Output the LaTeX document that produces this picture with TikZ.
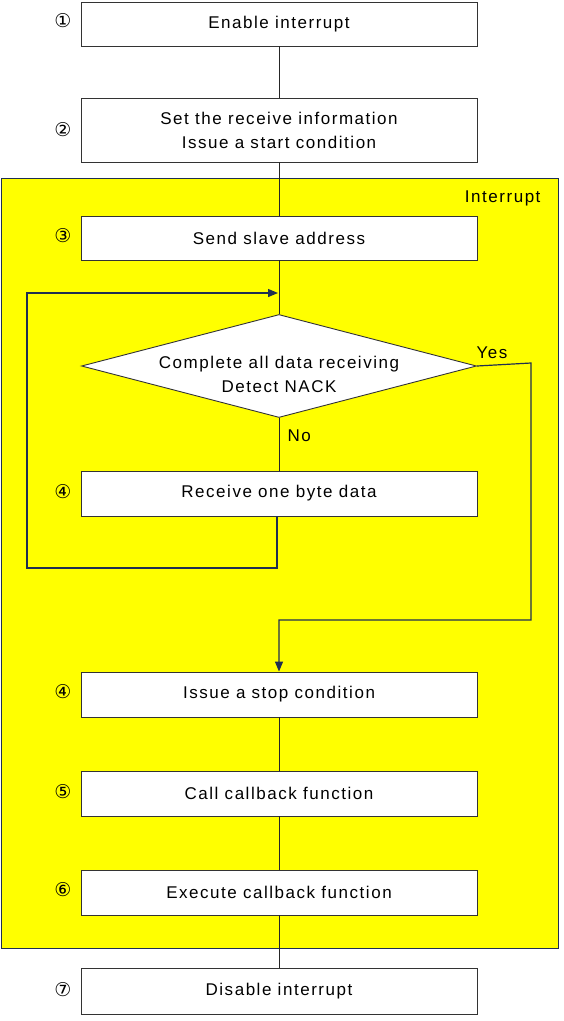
\documentclass[tikz,border=0pt]{standalone}
\usepackage{fontspec}
\setmainfont{Liberation Sans}[LetterSpace=9]
\newfontfamily\numfont{DejaVu Sans}
\usetikzlibrary{arrows.meta,shapes.geometric}
\definecolor{navy}{HTML}{1F2F50}
\definecolor{yel}{HTML}{FFFF00}
\begin{document}
\begin{tikzpicture}[x=1pt,y=-1pt,
  every node/.style={font=\fontsize{17}{24}\selectfont},
  procbox/.style={draw=black!80, line width=0.9pt, fill=white, minimum width=396pt, inner sep=0pt, align=center},
  num/.style={font=\numfont\fontsize{19}{19}\selectfont},
  conn/.style={draw=black!85, line width=0.8pt},
  flow/.style={draw=navy, line width=1.2pt},
  tip/.style={-{Triangle[length=10pt,width=8pt]}}]
\useasboundingbox (0,0) rectangle (564,1021);
% interrupt region
\node[draw=navy, line width=0.8pt, fill=yel, minimum width=557pt, minimum height=770pt, inner sep=0pt, anchor=north west] (irq) at (1,178) {};
\node[anchor=east] (irqlbl) at (544,198) {Interrupt};
% boxes
\node[procbox, minimum height=44pt] (b1) at (279,24) {Enable interrupt};
\node[procbox, minimum height=64pt] (b2) at (279,130) {Set the receive information\\Issue a start condition};
\node[procbox, minimum height=44pt] (b3) at (279,238) {Send slave address};
\node[diamond, draw=black!80, line width=0.9pt, fill=white, minimum width=395pt, minimum height=103pt, inner sep=0pt] (dec) at (279,366) {};
\node[align=center] (dectxt) at (279,374) {Complete all data receiving\\Detect NACK};
\node[procbox, minimum height=45pt] (b4) at (279,493.5) {Receive one byte data};
\node[procbox, minimum height=45pt] (b5) at (279,694.5) {Issue a stop condition};
\node[procbox, minimum height=45pt] (b6) at (279,793.5) {Call callback function};
\node[procbox, minimum height=45pt] (b7) at (279,892.5) {Execute callback function};
\node[procbox, minimum height=46pt] (b8) at (279,991) {Disable interrupt};
% numbers
\node[num] (n1) at (63,21) {①};
\node[num] (n2) at (63,130) {②};
\node[num] (n3) at (63,236) {③};
\node[num] (n4) at (63,492) {④};
\node[num] (n5) at (63,692) {④};
\node[num] (n6) at (63,792) {⑤};
\node[num] (n7) at (63,890) {⑥};
\node[num] (n8) at (63,990) {⑦};
% labels
\node[anchor=west] (yes) at (473,353) {Yes};
\node[anchor=west] (no) at (284,436) {No};
% coordinates
\coordinate (lpA) at (277,568);
\coordinate (lpB) at (27,568);
\coordinate (lpC) at (27,293);
\coordinate (lpD) at (278,293);
\coordinate (yA) at (531,363);
\coordinate (yB) at (531,620);
\coordinate (yC) at (279,620);
% connectors
\draw[conn] (b1.south) -- (b2.north);
\draw[conn] (b2.south) -- (b3.north);
\draw[conn] (b3.south) -- (dec.north);
\draw[conn] (dec.south) -- (b4.north);
\draw[conn] (b5.south) -- (b6.north);
\draw[conn] (b6.south) -- (b7.north);
\draw[conn] (b7.south) -- (b8.north);
\draw[flow, tip] (b4.south -| lpA) -- (lpA) -- (lpB) -- (lpC) -- (lpD);
\draw[flow, tip] (dec.east) -- (yA) -- (yB) -- (yC) -- (b5.north);
\end{tikzpicture}
\end{document}
